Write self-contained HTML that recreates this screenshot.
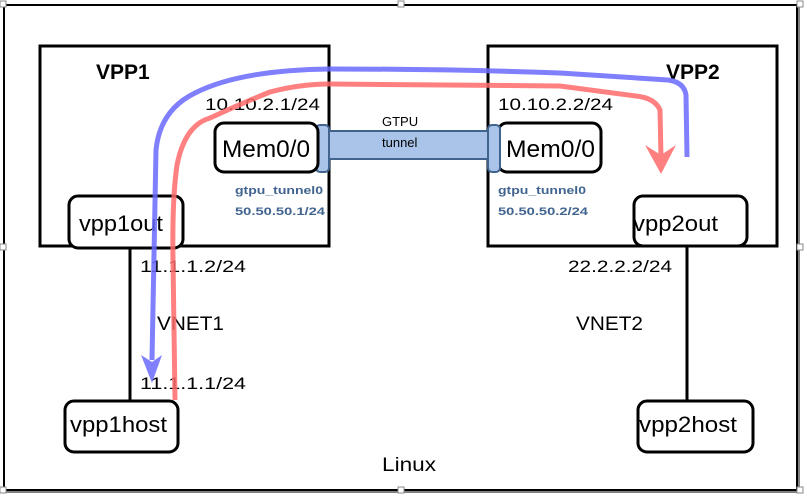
<!DOCTYPE html>
<html><head><meta charset="utf-8"><style>
body{margin:0;background:#fff}
svg{display:block}
text{font-family:"Liberation Sans",sans-serif}
</style></head><body>
<svg width="807" height="496" viewBox="0 0 807 496">
<rect width="807" height="496" fill="#fff"/>
<rect x="4" y="5" width="793" height="485" fill="none" stroke="#000" stroke-width="2"/>
<line x1="4" y1="492" x2="797" y2="492" stroke="#000" stroke-width="1"/>
<line x1="799" y1="5" x2="799" y2="490" stroke="#000" stroke-width="1"/>
<g fill="#fff" stroke="#888" stroke-width="1">
<rect x="0" y="1" width="6" height="6"/><rect x="398" y="1" width="6" height="6"/><rect x="797" y="1" width="6" height="6"/>
<rect x="0" y="244" width="6" height="6"/><rect x="797" y="244" width="6" height="6"/>
<rect x="0" y="487" width="6" height="6"/><rect x="398" y="487" width="6" height="6"/><rect x="797" y="487" width="6" height="6"/>
</g>
<rect x="40" y="46" width="289" height="200" fill="none" stroke="#000" stroke-width="3"/>
<rect x="488" y="46" width="289" height="200" fill="none" stroke="#000" stroke-width="3"/>
<text x="96" y="79" font-size="21" font-weight="bold">VPP1</text>
<text x="666" y="79" font-size="21" font-weight="bold">VPP2</text>
<line x1="130" y1="246" x2="130" y2="400" stroke="#000" stroke-width="3"/>
<line x1="687" y1="246" x2="687" y2="400" stroke="#000" stroke-width="3"/>
<rect x="322" y="131" width="172" height="28" fill="#a9c4e8" stroke="#41648f" stroke-width="2"/>
<rect x="316" y="125" width="13" height="47" rx="4" fill="#a9c4e8" stroke="#41648f" stroke-width="2"/>
<text x="382" y="126" font-size="13">GTPU</text>
<text x="382" y="147" font-size="13">tunnel</text>
<rect x="215" y="123" width="103" height="49" rx="9" fill="#fff" stroke="#000" stroke-width="3"/>
<rect x="498" y="123" width="103" height="49" rx="9" fill="#fff" stroke="#000" stroke-width="3"/>
<rect x="488" y="125" width="12" height="47" rx="4" fill="#a9c4e8" stroke="#41648f" stroke-width="2"/>
<text x="222" y="157" font-size="24" textLength="88" lengthAdjust="spacingAndGlyphs">Mem0/0</text>
<text x="506" y="157" font-size="24" textLength="89" lengthAdjust="spacingAndGlyphs">Mem0/0</text>
<text x="205" y="110" font-size="17" textLength="115" lengthAdjust="spacingAndGlyphs">10.10.2.1/24</text>
<text x="498" y="110" font-size="17" textLength="115" lengthAdjust="spacingAndGlyphs">10.10.2.2/24</text>
<g fill="#41648f" font-size="11" font-weight="bold">
<text x="235" y="194" textLength="88" lengthAdjust="spacingAndGlyphs">gtpu_tunnel0</text>
<text x="235" y="215" textLength="90" lengthAdjust="spacingAndGlyphs">50.50.50.1/24</text>
<text x="498" y="194" textLength="88" lengthAdjust="spacingAndGlyphs">gtpu_tunnel0</text>
<text x="498" y="215" textLength="90" lengthAdjust="spacingAndGlyphs">50.50.50.2/24</text>
</g>
<rect x="69" y="196" width="114" height="52" rx="9" fill="#fff" stroke="#000" stroke-width="3"/>
<rect x="634" y="196" width="113" height="50" rx="9" fill="#fff" stroke="#000" stroke-width="3"/>
<text x="79" y="231" font-size="22" textLength="84" lengthAdjust="spacingAndGlyphs">vpp1out</text>
<text x="633" y="231" font-size="22" textLength="85" lengthAdjust="spacingAndGlyphs">vpp2out</text>
<text x="140" y="272" font-size="17" textLength="106" lengthAdjust="spacingAndGlyphs">11.1.1.2/24</text>
<text x="568" y="272" font-size="17" textLength="104" lengthAdjust="spacingAndGlyphs">22.2.2.2/24</text>
<text x="157" y="330" font-size="19" textLength="67" lengthAdjust="spacingAndGlyphs">VNET1</text>
<text x="576" y="330" font-size="19" textLength="67" lengthAdjust="spacingAndGlyphs">VNET2</text>
<text x="140" y="389" font-size="17" textLength="106" lengthAdjust="spacingAndGlyphs">11.1.1.1/24</text>
<rect x="65" y="401" width="113" height="51" rx="9" fill="#fff" stroke="#000" stroke-width="3"/>
<rect x="638" y="401" width="115" height="51" rx="9" fill="#fff" stroke="#000" stroke-width="3"/>
<text x="70" y="432" font-size="22" textLength="97" lengthAdjust="spacingAndGlyphs">vpp1host</text>
<text x="639" y="432" font-size="22" textLength="98" lengthAdjust="spacingAndGlyphs">vpp2host</text>
<text x="382" y="471" font-size="19" textLength="54" lengthAdjust="spacingAndGlyphs">Linux</text>
<g opacity="0.85">
<path d="M687,157 L686,95 Q684,82 668,80 L560,73 Q450,69 330,69 Q240,70 195,93 Q160,110 156,150 L152,360" fill="none" stroke="#6a6aff" stroke-width="5"/>
<path d="M141,355 L152,383 L162,355 L152,362 Z" fill="#6a6aff"/>
<path d="M175,400 L173,260 Q172,200 177,165 Q185,125 210,118 Q240,104 270,92 Q300,84 330,84 L560,86 L636,96 Q655,98 660,110 L661,158" fill="none" stroke="#ff6a6a" stroke-width="5"/>
<path d="M645,145 L661,174 L676,145 L661,155 Z" fill="#ff6a6a"/>
</g>
</svg>
</body></html>
